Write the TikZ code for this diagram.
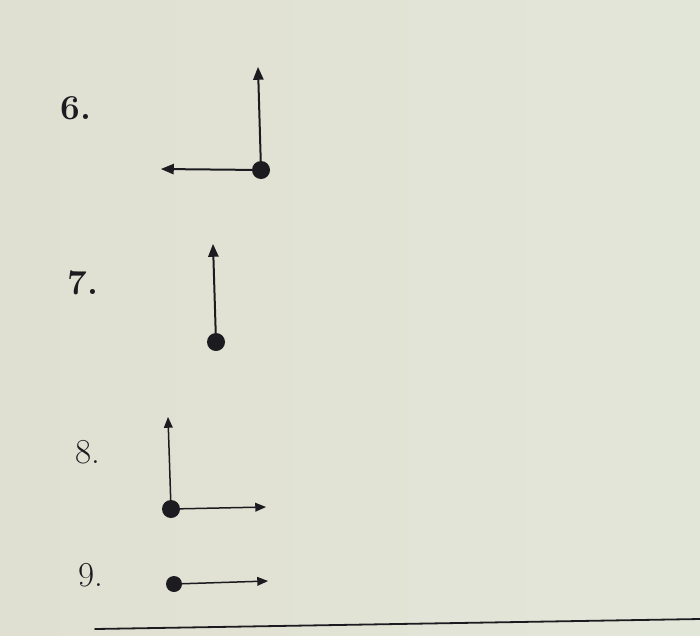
\documentclass[tikz,border=0pt]{standalone}
\usetikzlibrary{arrows}
\definecolor{bgleft}{RGB}{224,224,210}
\definecolor{bgmid}{RGB}{210,226,190}
\definecolor{bgright}{RGB}{226,230,216}
\definecolor{ink}{RGB}{28,28,32}
\tikzset{
  dot/.style={circle,fill=ink,inner sep=0pt,minimum size=18pt},
  num/.style={text=ink,font=\fontsize{35}{36}\selectfont},
  vec/.style={->,draw=ink,line width=2pt},
  thinvec/.style={->,draw=ink,line width=1.5pt}
}
\begin{document}
\begin{tikzpicture}[line cap=round,line join=round,>=triangle 45,x=1pt,y=-1pt]
\fill[left color=bgleft,middle color=bgmid,right color=bgright] (0,0) rectangle (700,635);
\useasboundingbox (0,0) rectangle (700,635);
% 6.
\node[num,font=\fontsize{35}{36}\selectfont\bfseries] (n6) at (76,108) {6.};
\node[dot] (d6) at (261,170) {};
\coordinate (u6) at (258,67);
\coordinate (l6) at (161,169);
\draw[vec] (d6) -- (u6);
\draw[vec] (d6) -- (l6);
% 7.
\node[num,font=\fontsize{35}{36}\selectfont\bfseries] (n7) at (83,283) {7.};
\node[dot] (d7) at (216,342) {};
\coordinate (u7) at (213,244);
\draw[vec] (d7) -- (u7);
% 8.
\node[num] (n8) at (88,452) {8.};
\node[dot] (d8) at (171,509) {};
\coordinate (u8) at (168,417);
\coordinate (r8) at (266,507);
\draw[thinvec] (d8) -- (u8);
\draw[thinvec] (d8) -- (r8);
% 9.
\node[num] (n9) at (91,575) {9.};
\node[dot,minimum size=16pt] (d9) at (174,584) {};
\coordinate (r9) at (268,581);
\draw[thinvec] (d9) -- (r9);
% rule
\draw[ink,line width=1.8pt] (95,629) -- (700,619);
\end{tikzpicture}
\end{document}
